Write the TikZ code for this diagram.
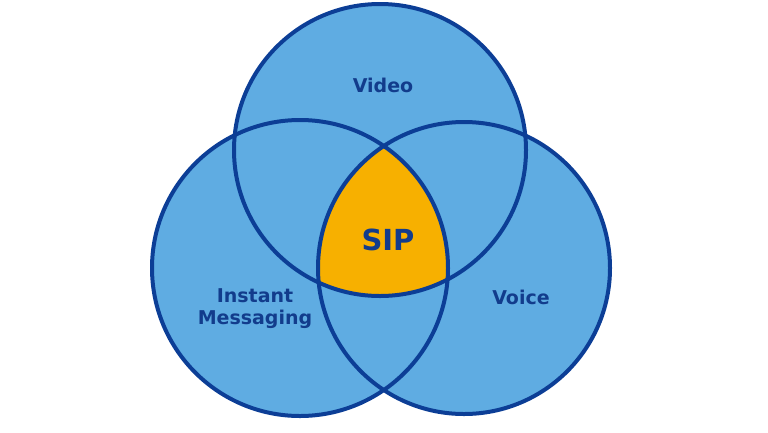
\documentclass[tikz,border=0pt]{standalone}
\usepackage{fontspec}
\setmainfont{DejaVu Sans}
\begin{document}
\begin{tikzpicture}[x=1pt,y=-1pt,
  ring/.style={draw=ringc,line width=4pt},
  lbl/.style={text=txtc,font=\bfseries\fontsize{19}{22}\selectfont,align=center}]
\definecolor{ringc}{RGB}{12,62,150}
\definecolor{fillc}{RGB}{95,172,226}
\definecolor{sipc}{RGB}{247,176,0}
\definecolor{txtc}{RGB}{18,60,140}
\useasboundingbox (0,0) rectangle (768,432);
\coordinate (ct) at (380,150);
\coordinate (cl) at (300,268);
\coordinate (cr) at (464,268);
\fill[fillc] (ct) circle (146) (cl) circle (148) (cr) circle (146);
\begin{scope}
\clip (ct) circle (146);
\clip (cl) circle (148);
\fill[sipc] (cr) circle (146);
\end{scope}
\draw[ring] (ct) circle (146);
\draw[ring] (cl) circle (148);
\draw[ring] (cr) circle (146);
\node[lbl] (v) at (383,85) {Video};
\node[lbl,font=\bfseries\fontsize{29}{32}\selectfont] (s) at (388,240) {SIP};
\node[lbl] (im) at (255,309) {Instant\\Messaging};
\node[lbl] (vo) at (521,297) {Voice};
\end{tikzpicture}
\end{document}
